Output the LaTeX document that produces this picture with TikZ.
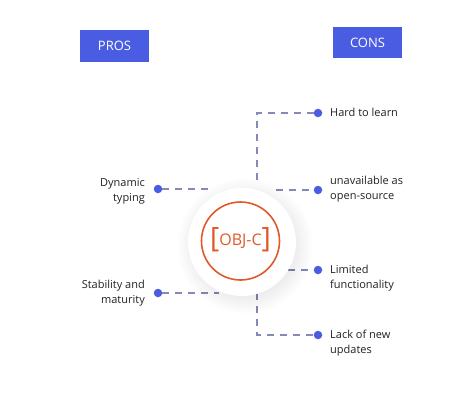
\documentclass[tikz,border=0pt]{standalone}
\usepackage{fontspec}
\setmainfont{Open Sans}
\definecolor{brand}{HTML}{4A5DE2}
\definecolor{orng}{HTML}{E0592A}
\definecolor{dashc}{HTML}{8489B5}
\definecolor{txt}{HTML}{222222}
\tikzset{
  header/.style={fill=brand, text=white, inner sep=0pt, font=\fontsize{13}{15}\selectfont},
  dot/.style={circle, fill=brand, inner sep=0pt, minimum size=8.5pt},
  conn/.style={draw=dashc, line width=1.3pt, dash pattern=on 7pt off 6pt},
  lbl/.style={text=txt, inner sep=0pt, font=\fontsize{11}{15}\selectfont},
}
\begin{document}
\begin{tikzpicture}[x=1pt,y=-1pt]
\useasboundingbox (0,0) rectangle (474,412);
\fill[white] (0,0) rectangle (474,412);
% headers
\node[header, minimum width=69pt, minimum height=32pt] (pros) at (114.5,46) {PROS};
\node[header, minimum width=69pt, minimum height=31pt] (cons) at (367.5,42.5) {CONS};
% dots
\node[dot] (d1) at (318,113) {};
\node[dot] (d2) at (318,190) {};
\node[dot] (d3) at (318,270) {};
\node[dot] (d4) at (318,335) {};
\node[dot] (d5) at (158,189) {};
\node[dot] (d6) at (158,293) {};
% connector free ends
\coordinate (c1a) at (257,113);
\coordinate (c1b) at (257,184);
\coordinate (c2) at (276,190);
\coordinate (c3) at (288,270);
\coordinate (c4a) at (257,293);
\coordinate (c4b) at (257,335);
\coordinate (c5) at (208,189);
\coordinate (c6) at (219,293);
\draw[conn] (d1) -- (c1a) -- (c1b);
\draw[conn] (c2) -- (d2);
\draw[conn] (c3) -- (d3);
\draw[conn] (c4a) -- (c4b) -- (d4);
\draw[conn] (d5) -- (c5);
\draw[conn] (d6) -- (c6);
% soft shadow of the central circle
\foreach \r in {52,53,...,68} \fill[black, opacity=0.005] (245,246) circle (\r);
% central circle
\node[circle, fill=white, minimum size=108pt, inner sep=0pt] (hub) at (242,242) {};
\node[circle, draw=orng, line width=1.6pt, minimum size=78pt, inner sep=0pt] (logo) at (240.5,241) {};
\node[text=orng, inner sep=0pt] (logotxt) at (240.5,240)
  {{\fontsize{28}{28}\selectfont[}\raisebox{2pt}{\fontsize{16}{16}\selectfont OBJ-C}{\fontsize{28}{28}\selectfont]}};
% labels
\node[lbl, anchor=west, align=left] (l1) at (330,112) {Hard to learn};
\node[lbl, anchor=west, align=left] (l2) at (330,189.5) {unavailable as\\open-source};
\node[lbl, anchor=west, align=left] (l3) at (330,278) {Limited\\functionality};
\node[lbl, anchor=west, align=left] (l4) at (330,343) {Lack of new\\updates};
\node[lbl, anchor=east, align=right] (l5) at (145,191.5) {Dynamic\\typing};
\node[lbl, anchor=east, align=right] (l6) at (145,293) {Stability and\\maturity};
\end{tikzpicture}
\end{document}
